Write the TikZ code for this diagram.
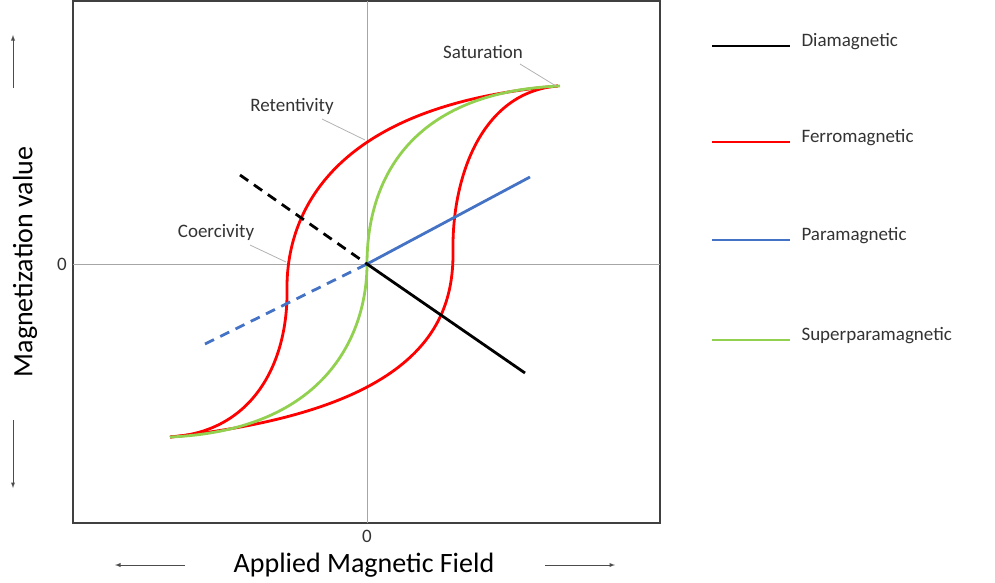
\documentclass[tikz,border=0pt]{standalone}
\usepackage{fontspec}
\setmainfont{Carlito}
\definecolor{gr}{HTML}{92D050}
\definecolor{bl}{HTML}{4472C4}
\begin{document}
\begin{tikzpicture}[x=1pt,y=-1pt,
  ax/.style={gray!70,line width=0.8pt},
  cur/.style={line width=2.8pt},
  lbl/.style={font=\fontsize{19}{19}\selectfont,text=black!80},
  lead/.style={gray!60,line width=0.8pt},
  big/.style={font=\fontsize{28}{28}\selectfont},
  arr/.style={line width=0.9pt,-latex}]
\useasboundingbox (0,0) rectangle (995,582);
\draw[black!75,line width=1.2pt] (73,1) rectangle (660,523);
\draw[ax] (367,1) -- (367,523);
\draw[ax] (73,264) -- (660,264);
% ferro
\draw[cur,red] (170,437) .. controls (255,432) and (288,360) .. (287,290) .. controls (286,215) and (330,105) .. (558,86);
\draw[cur,red] (558,86) .. controls (480,92) and (452,180) .. (453,250) .. controls (454,320) and (425,410) .. (170,437);
% super
\draw[cur,gr] (170,437) .. controls (330,430) and (367,330) .. (367,264) .. controls (367,180) and (410,92) .. (560,86);
% para
\draw[cur,bl,dash pattern=on 10pt off 7pt] (205,344) -- (367,264);
\draw[cur,bl] (367,264) -- (530,177);
% dia
\draw[cur,black,dash pattern=on 10pt off 7pt] (240,175) -- (367,264);
\draw[cur,black] (367,264) -- (525,373);
% labels
\node[lbl] (sat) at (483,52) {Saturation};
\node[lbl] (ret) at (292,106) {Retentivity};
\node[lbl] (coe) at (216,232) {Coercivity};
\coordinate (satp) at (556,86);
\coordinate (retp) at (365,140);
\coordinate (coep) at (286,262);
\draw[lead] (520,64) -- (satp);
\draw[lead] (322,119) -- (retp);
\draw[lead] (250,245) -- (coep);
\node[lbl] (z1) at (62,264) {0};
\node[lbl] (z2) at (367,536) {0};
\node[big] (xl) at (364,565) {Applied Magnetic Field};
\node[big,rotate=90] (yl) at (25,262) {Magnetization value};
\draw[arr,black!70] (185,565) -- (115,565);
\draw[arr,black!70] (545,565) -- (615,565);
\draw[arr,black!70] (13,88) -- (13,35);
\draw[arr,black!70] (13,420) -- (13,488);
% legend
\foreach \y/\c/\t in {46/black/Diamagnetic,142/red/Ferromagnetic,240/bl/Paramagnetic,340/gr/Superparamagnetic}{
  \draw[cur,\c] (712,\y) -- (790,\y);
  \node[lbl,anchor=west] at (798,\y-4) {\t};
}
\end{tikzpicture}
\end{document}
